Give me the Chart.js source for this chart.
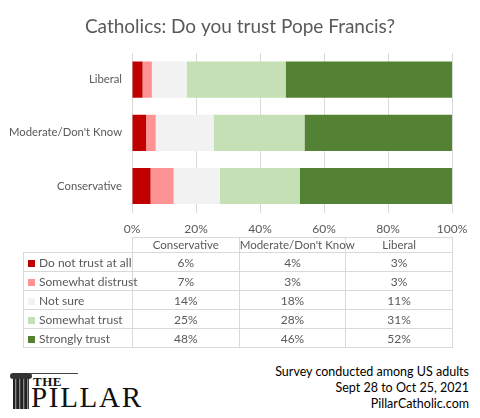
<!DOCTYPE html>
<html>
<head>
<meta charset="utf-8">
<script src="https://cdn.jsdelivr.net/npm/chart.js@4.4.1/dist/chart.umd.min.js"></script>
<style>
  body { margin: 0; background: #fff; font-family: Lato, "Open Sans", sans-serif; }
  #wrap { position: relative; width: 480px; height: 418px; overflow: hidden; }
  #chartBox { position: absolute; left: 0; top: 0; width: 480px; height: 250px; }
  #tabela { position: absolute; left: 23px; top: 237px; border-collapse: collapse; font-size: 12px; color: #595959; table-layout: fixed; }
  #tabela td { border: 1px solid #d9d9d9; padding: 0; height: 18px; text-align: center; white-space: nowrap; overflow: visible; }
  #tabela tr.cab td { height: 14px; line-height: 14px; font-size: 11.5px; }
  #tabela td.vazio { border-top: none; border-left: none; }
  #tabela td.serie { text-align: left; padding-left: 4px; }
  #tabela .quad { display: inline-block; width: 7px; height: 7px; margin-right: 4px; vertical-align: 0px; }
  #rodape { position: absolute; right: 11px; top: 364px; text-align: right; font-size: 12.5px; line-height: 16px; color: #000; }
  #logo { position: absolute; left: 10px; top: 371px; width: 140px; height: 40px; font-family: "Liberation Serif", "DejaVu Serif", serif; color: #111; }
  #logo .capitel { position: absolute; left: 0; top: 2px; width: 22px; height: 6px; background: #333; border-radius: 3px; }
  #logo .fuste { position: absolute; left: 3px; top: 8px; width: 16px; height: 30px;
    background: repeating-linear-gradient(90deg, #222 0 2px, #888 2px 3px, #444 3px 4px); }
  #logo .linha { position: absolute; left: 18px; top: 2px; width: 50px; height: 1px; background: #444; }
  #logo .the { position: absolute; left: 23px; top: 3px; font-size: 13px; font-weight: bold; letter-spacing: 0.5px; }
  #logo .pillar { position: absolute; left: 21px; top: 10px; font-size: 29px; letter-spacing: 1.7px; line-height: 32px; }
</style>
</head>
<body>
<div id="wrap">
  <div id="chartBox"><canvas id="grafico"></canvas></div>
  <table id="tabela"></table>
  <div id="rodape">Survey conducted among US adults<br>Sept 28 to Oct 25, 2021<br>PillarCatholic.com</div>
  <div id="logo">
    <div class="fuste"></div><div class="capitel"></div><div class="linha"></div>
    <span class="the">THE</span>
    <span class="pillar">PILLAR</span>
  </div>
</div>
<script>
  // categorias (de cima para baixo no gráfico)
  const grupos = ['Liberal', "Moderate/Don't Know", 'Conservative'];
  const respostas = ['Do not trust at all', 'Somewhat distrust', 'Not sure', 'Somewhat trust', 'Strongly trust'];
  const cores = ['#C00000', '#FF9393', '#F2F2F2', '#C5E0B4', '#548235'];

  const naoConfia = [3.3, 4.4, 5.8];
  const desconfia = [2.9, 3.0, 7.2];
  const naoSabe = [10.9, 18.1, 14.4];
  const confiaPouco = [30.9, 28.4, 25.0];
  const confiaMuito = [52.0, 46.1, 47.6];
  const series = [naoConfia, desconfia, naoSabe, confiaPouco, confiaMuito];

  const ticksX = [0, 20, 40, 60, 80, 100];

  // ordem das colunas da tabela
  const colunasTabela = ['Conservative', "Moderate/Don't Know", 'Liberal'];

  const titulo = 'Catholics: Do you trust Pope Francis?';
  const cinza = '#595959';
  const fonte = 'Lato, "Open Sans", sans-serif';

  // título centrado na largura toda do canvas (o plugin title centra só na área com padding)
  const tituloCentral = {
    id: 'tituloCentral',
    afterDraw(chart) {
      const c = chart.ctx;
      c.save();
      c.font = '19px ' + fonte;
      c.fillStyle = cinza;
      c.textAlign = 'center';
      c.textBaseline = 'middle';
      c.fillText(titulo, chart.width / 2, 27);
      c.restore();
    }
  };

  const ctx = document.getElementById('grafico').getContext('2d');
  const grafico = new Chart(ctx, {
    type: 'bar',
    data: {
      labels: grupos,
      datasets: respostas.map((r, i) => ({
        label: r,
        data: series[i],
        backgroundColor: cores[i],
        borderWidth: 0,
        categoryPercentage: 1,
        barPercentage: 0.68
      }))
    },
    plugins: [tituloCentral],
    options: {
      indexAxis: 'y',
      responsive: true,
      maintainAspectRatio: false,
      animation: false,
      layout: { padding: { left: 0, right: 28, top: 53, bottom: 5 } },
      plugins: {
        legend: { display: false },
        tooltip: { enabled: false },
        title: { display: false }
      },
      scales: {
        x: {
          stacked: true,
          min: 0,
          max: 100,
          afterBuildTicks: (eixo) => { eixo.ticks = ticksX.map(v => ({ value: v })); },
          ticks: {
            callback: v => v + '%',
            color: cinza,
            font: { family: fonte, size: 12 },
            padding: 9,
            maxRotation: 0
          },
          grid: { color: '#D9D9D9', drawTicks: false },
          border: { display: false }
        },
        y: {
          stacked: true,
          afterFit: (eixo) => { eixo.width = 132; },
          ticks: {
            color: cinza,
            font: { family: fonte, size: 11.3 },
            padding: 10
          },
          grid: { display: false, drawTicks: false },
          border: { display: false }
        }
      }
    }
  });

  // tabela de dados abaixo do gráfico
  function montarTabela() {
    const tab = document.getElementById('tabela');
    const area = grafico.chartArea;
    const larguraCol = area.width / colunasTabela.length;
    let html = '<colgroup><col style="width:' + (area.left - 23) + 'px">';
    colunasTabela.forEach(() => { html += '<col style="width:' + larguraCol + 'px">'; });
    html += '</colgroup>';
    html += '<tr class="cab"><td class="vazio"></td>';
    colunasTabela.forEach(c => { html += '<td>' + c + '</td>'; });
    html += '</tr>';
    respostas.forEach((r, i) => {
      html += '<tr><td class="serie"><span class="quad" style="background:' + cores[i] + '"></span>' + r + '</td>';
      colunasTabela.forEach(c => {
        const v = series[i][grupos.indexOf(c)];
        html += '<td>' + Math.round(v) + '%</td>';
      });
      html += '</tr>';
    });
    tab.innerHTML = html;
    tab.style.width = (area.right - 23) + 'px';
  }
  montarTabela();
</script>
</body>
</html>
